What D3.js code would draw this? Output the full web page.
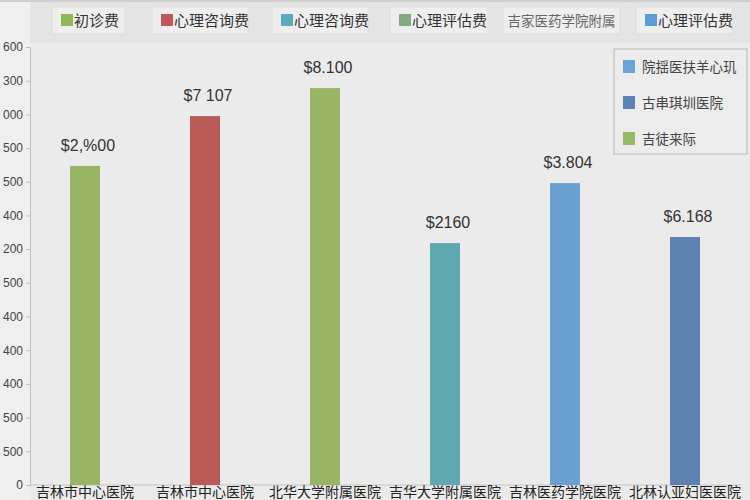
<!DOCTYPE html>
<html>
<head>
<meta charset="utf-8">
<script src="https://cdn.jsdelivr.net/npm/d3@7"></script>
<style>
  body { margin: 0; background: #efefef; }
  text { font-family: "Noto Sans CJK SC", "Noto Sans", sans-serif; }
</style>
</head>
<body>
<div id="chart"></div>
<script>
const svgWidth = 750,
      svgHeight = 500,
      margin = {top: 47, right: 5, bottom: 15, left: 30};

// data
const hospitals = ["吉林市中心医院", "吉林市中心医院", "北华大学附属医院", "吉华大学附属医院", "吉林医药学院医院", "北林认亚妇医医院"];
const fees = [4735, 5475, 5890, 3590, 4480, 3680];
const feeLabels = ["$2,%00", "$7 107", "$8.100", "$2160", "$3.804", "$6.168"];
const barColors = ["#98b566", "#bb5b57", "#98b566", "#5ea8b2", "#6a9fd2", "#5d82b2"];
const yTicks = [0, 500, 1000, 1500, 2000, 2500, 3000, 3500, 4000, 4500, 5000, 5500, 6000, 6500];
const yTickLabels = ["0", "500", "500", "400", "400", "400", "500", "200", "400", "500", "500", "000", "300", "600"];
const topLegend = ["初诊费", "心理咨询费", "心理咨询费", "心理评估费", "吉家医药学院附属", "心理评估费"];
const topLegendColors = ["#8fb85a", "#c0555a", "#5aa9bd", "#82aa80", null, "#5b9bd8"];
const sideLegend = ["院揺医扶羊心玑", "古串琪圳医院", "吉徒来际"];
const sideLegendColors = ["#6aa3d6", "#5a82b4", "#96b965"];

const plotBottom = 485;
const numFont = "'Liberation Sans', Arial, sans-serif";

let svg = d3.select("#chart")
  .append("svg")
  .attr("width", svgWidth)
  .attr("height", svgHeight);

svg.append("rect")
  .attr("width", svgWidth).attr("height", svgHeight)
  .attr("fill", "#efefef");

// plot background
svg.append("rect")
  .attr("x", margin.left).attr("y", 40)
  .attr("width", svgWidth - margin.left).attr("height", svgHeight - 40)
  .attr("fill", "#ebebeb");

let scaleY = d3.scaleLinear().domain([0, 6500]).range([plotBottom, margin.top]);
let scaleX = d3.scaleBand()
  .domain(d3.range(hospitals.length))
  .range([25, 745])
  .paddingInner(0.75)
  .paddingOuter(0.375);

// header band with legend
svg.append("rect")
  .attr("x", 0).attr("y", 0).attr("width", svgWidth).attr("height", 2)
  .attr("fill", "#cfcfcf");
svg.append("rect")
  .attr("x", margin.left).attr("y", 2).attr("width", svgWidth - margin.left).attr("height", 40)
  .attr("fill", "#e4e4e4");

const legendBoxes = [[52, 125], [152, 248], [272, 368], [390, 488], [503, 620], [636, 732]];
let legItems = svg.append("g").selectAll("g")
  .data(topLegend)
  .enter()
  .append("g")
  .attr("transform", (d, i) => "translate(" + legendBoxes[i][0] + ",7)");

legItems.append("rect")
  .attr("width", (d, i) => legendBoxes[i][1] - legendBoxes[i][0])
  .attr("height", 27)
  .attr("fill", "#eeeeee")
  .attr("stroke", "#dddddd");

legItems.filter((d, i) => topLegendColors[i] !== null)
  .append("rect")
  .attr("x", 9).attr("y", 7)
  .attr("width", 12).attr("height", 12)
  .attr("fill", function() {
    return topLegendColors[legItems.nodes().indexOf(this.parentNode)];
  });

legItems.append("text")
  .attr("x", (d, i) => topLegendColors[i] ? 22 : (legendBoxes[i][1] - legendBoxes[i][0]) / 2)
  .attr("y", 19)
  .attr("text-anchor", (d, i) => topLegendColors[i] ? "start" : "middle")
  .style("font-size", (d, i) => topLegendColors[i] ? "15px" : "13.5px")
  .attr("fill", (d, i) => topLegendColors[i] ? "#333" : "#666")
  .text(d => d);

// axes
let yAxis = svg.append("g")
  .attr("transform", "translate(" + margin.left + ",0)")
  .call(d3.axisLeft(scaleY).tickValues(yTicks).tickSize(4).tickFormat((d, i) => yTickLabels[i]));
yAxis.select(".domain").attr("stroke", "#bdbdbd");
yAxis.selectAll(".tick line").attr("stroke", "#bdbdbd");
yAxis.selectAll(".tick text")
  .attr("fill", "#444")
  .attr("x", -7)
  .style("font-size", "12px")
  .style("font-family", numFont);

svg.append("line")
  .attr("x1", margin.left).attr("x2", 742)
  .attr("y1", plotBottom).attr("y2", plotBottom)
  .attr("stroke", "#c4c4c4");

// bars
svg.append("g").selectAll("rect.bar")
  .data(fees)
  .enter()
  .append("rect")
  .attr("class", "bar")
  .attr("x", (d, i) => scaleX(i))
  .attr("y", d => scaleY(d))
  .attr("width", scaleX.bandwidth())
  .attr("height", d => plotBottom - scaleY(d))
  .attr("fill", (d, i) => barColors[i]);

svg.append("g").selectAll("text")
  .data(fees)
  .enter()
  .append("text")
  .attr("x", (d, i) => scaleX(i) + scaleX.bandwidth() / 2 + 3)
  .attr("y", d => scaleY(d) - 15)
  .attr("text-anchor", "middle")
  .attr("fill", "#333")
  .style("font-size", "16px")
  .style("font-family", numFont)
  .text((d, i) => feeLabels[i]);

// hospital names along the bottom edge
svg.append("g").selectAll("text")
  .data(hospitals)
  .enter()
  .append("text")
  .attr("x", (d, i) => scaleX(i) + scaleX.bandwidth() / 2)
  .attr("y", 497)
  .attr("text-anchor", "middle")
  .attr("fill", "#222")
  .style("font-size", "14px")
  .text(d => d);

// side legend
let side = svg.append("g");
side.append("rect")
  .attr("x", 614).attr("y", 49)
  .attr("width", 133).attr("height", 105)
  .attr("fill", "#ececec")
  .attr("stroke", "#b8b8b8");

let sideItems = side.selectAll("g")
  .data(sideLegend)
  .enter()
  .append("g")
  .attr("transform", (d, i) => "translate(623," + (67 + i * 36) + ")");

sideItems.append("rect")
  .attr("x", 0).attr("y", -7)
  .attr("width", 12).attr("height", 13)
  .attr("fill", (d, i) => sideLegendColors[i]);

sideItems.append("text")
  .attr("x", 19).attr("y", 5)
  .attr("fill", "#444")
  .style("font-size", "13.5px")
  .text(d => d);
</script>
</body>
</html>
